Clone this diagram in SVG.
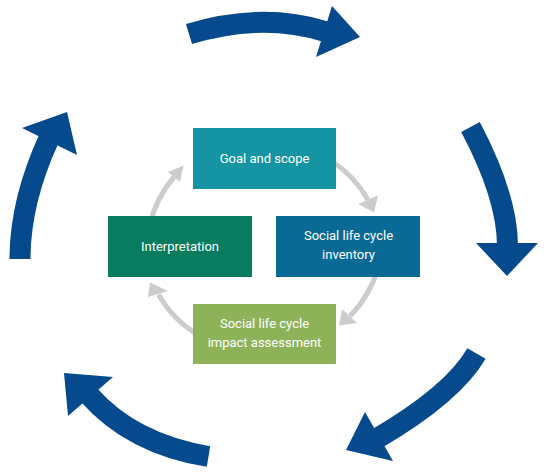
<svg xmlns="http://www.w3.org/2000/svg" width="550" height="474" viewBox="0 0 550 474">
<style>
.big{fill:none;stroke:#064A8E;stroke-width:21}
.bighead{fill:#064A8E}
.small{fill:none;stroke:#CCCCCC;stroke-width:5}
.smallhead{fill:#CCCCCC}
.lbl{font-family:Roboto,"Liberation Sans",sans-serif;font-size:13px;fill:#FFFFFF;text-anchor:middle}
</style>
<rect width="550" height="474" fill="#FFFFFF"/>
<g id="outer-cycle">
<path class="big" d="M189,34 Q262,12 325,31.5"/>
<polygon class="bighead" points="332,6 360,37 316,57"/>
<path class="big" d="M470.5,127 Q507.5,197 507.5,246"/>
<polygon class="bighead" points="476,243 538,243 507,276"/>
<path class="big" d="M476.5,353.5 Q453,394 377,438.5"/>
<polygon class="bighead" points="365,412 393,461 346,450"/>
<path class="big" d="M208.5,456.5 Q132,444 88.5,394.5"/>
<polygon class="bighead" points="113,377 68,416 64,373"/>
<path class="big" d="M20,259 Q20,201.6 49,138.5"/>
<polygon class="bighead" points="22,128 77,155 67,112"/>
</g>
<g id="connectors">
<path class="small" d="M330,160 A112 112 0 0 1 368,200"/>
<polygon class="smallhead" points="378,195.5 358,204 374,212.5"/>
<path class="small" d="M378,268 A112 112 0 0 1 350,316"/>
<polygon class="smallhead" points="342,309 357,323 339,325.5"/>
<path class="small" d="M200,336 A112 112 0 0 1 158.5,294.5"/>
<polygon class="smallhead" points="148,297 168,291 150,282.5"/>
<path class="small" d="M150,224 A112 112 0 0 1 174,177"/>
<polygon class="smallhead" points="168,172 180,182 183.5,165.5"/>
</g>
<g id="goal-and-scope">
<rect x="193" y="128" width="143" height="61" fill="#1594A4"/>
<text class="lbl" x="264.5" y="163.3">Goal and scope</text>
</g>
<g id="inventory">
<rect x="276" y="216" width="144" height="61" fill="#0A6A96"/>
<text class="lbl" x="348.5" y="240">Social life cycle</text>
<text class="lbl" x="348.5" y="259.3">inventory</text>
</g>
<g id="impact-assessment">
<rect x="193" y="304" width="143" height="60" fill="#8DB257"/>
<text class="lbl" x="264.5" y="328.3">Social life cycle</text>
<text class="lbl" x="264.5" y="347.3">impact assessment</text>
</g>
<g id="interpretation">
<rect x="108" y="216" width="144" height="61" fill="#087C5E"/>
<text class="lbl" x="180" y="251">Interpretation</text>
</g>
</svg>
